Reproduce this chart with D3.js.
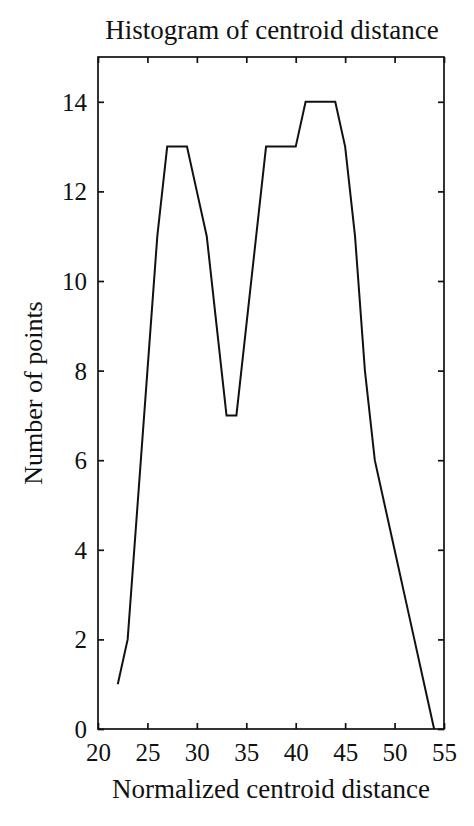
<!DOCTYPE html>
<html>
<head>
<meta charset="utf-8">
<script src="https://cdn.jsdelivr.net/npm/d3@7"></script>
<style>
  body { margin: 0; background: #fff; }
  text { font-family: "Liberation Serif", "DejaVu Serif", serif; fill: #111; }
</style>
</head>
<body>
<svg id="chart" width="474" height="826"></svg>
<script>
// Bin position and count
const distances = [22, 23, 24, 25, 26, 27, 28, 29, 30, 31, 32, 33, 34, 35, 36, 37, 38,
  39, 40, 41, 42, 43, 44, 45, 46, 47, 48, 49, 50, 51, 52, 53, 54];
const counts = [1, 2, 5, 8, 11, 13, 13, 13, 12, 11, 9, 7, 7, 9, 11, 13, 13,
  13, 13, 14, 14, 14, 14, 13, 11, 8, 6, 5, 4, 3, 2, 1, 0];
const xTicks = [20, 25, 30, 35, 40, 45, 50, 55];
const yTicks = [0, 2, 4, 6, 8, 10, 12, 14];

const margin = {top: 57, right: 30, bottom: 97, left: 98};
const width = 474;
const height = 826;
const tickLen = 6;

const svg = d3.select('#chart');

const x = d3.scaleLinear()
  .domain([20, 55])
  .range([margin.left, width - margin.right]);

const y = d3.scaleLinear()
  .domain([0, 15])
  .range([height - margin.bottom, margin.top]);

const points = distances.map((d, i) => ({x: d, y: counts[i]}));

// Frame
svg.append('rect')
  .attr('x', x(20))
  .attr('y', y(15))
  .attr('width', x(55) - x(20))
  .attr('height', y(0) - y(15))
  .attr('fill', 'none')
  .attr('stroke', '#111')
  .attr('stroke-width', 1.7);

// Bottom axis with inward ticks
const bottomAxis = svg.append('g')
  .attr('transform', `translate(0,${y(0)})`)
  .call(d3.axisBottom(x).tickValues(xTicks).tickSize(-tickLen).tickPadding(14));

// Top mirrored ticks
const topAxis = svg.append('g')
  .attr('transform', `translate(0,${y(15)})`)
  .call(d3.axisTop(x).tickValues(xTicks).tickSize(-tickLen).tickFormat(''));

// Left axis
const leftAxis = svg.append('g')
  .attr('transform', `translate(${x(20)},0)`)
  .call(d3.axisLeft(y).tickValues(yTicks).tickSize(-tickLen).tickPadding(11));

// Right mirrored ticks
const rightAxis = svg.append('g')
  .attr('transform', `translate(${x(55)},0)`)
  .call(d3.axisRight(y).tickValues(yTicks).tickSize(-tickLen).tickFormat(''));

[bottomAxis, topAxis, leftAxis, rightAxis].forEach((g) => {
  g.select('.domain').remove();
  g.selectAll('line').attr('stroke', '#111').attr('stroke-width', 1.7);
  g.selectAll('text')
    .attr('font-family', '"Liberation Serif", serif')
    .attr('font-size', 25)
    .attr('fill', '#111');
});

bottomAxis.selectAll('text').attr('dy', '0.71em');
leftAxis.selectAll('text').attr('dy', '0.34em');

// Data line
svg.append('path')
  .datum(points)
  .attr('fill', 'none')
  .attr('stroke', '#111')
  .attr('stroke-width', 2)
  .attr('stroke-linejoin', 'miter')
  .attr('d', d3.line().x((d) => x(d.x)).y((d) => y(d.y)));

// Titles
svg.append('text')
  .attr('x', (x(20) + x(55)) / 2 + 1)
  .attr('y', 39)
  .attr('text-anchor', 'middle')
  .attr('font-size', 27)
  .text('Histogram of centroid distance');

svg.append('text')
  .attr('x', (x(20) + x(55)) / 2)
  .attr('y', 798)
  .attr('text-anchor', 'middle')
  .attr('font-size', 27)
  .text('Normalized centroid distance');

svg.append('text')
  .attr('transform', `translate(42,${(y(0) + y(15)) / 2}) rotate(-90)`)
  .attr('text-anchor', 'middle')
  .attr('font-size', 26)
  .text('Number of points');
</script>
</body>
</html>
